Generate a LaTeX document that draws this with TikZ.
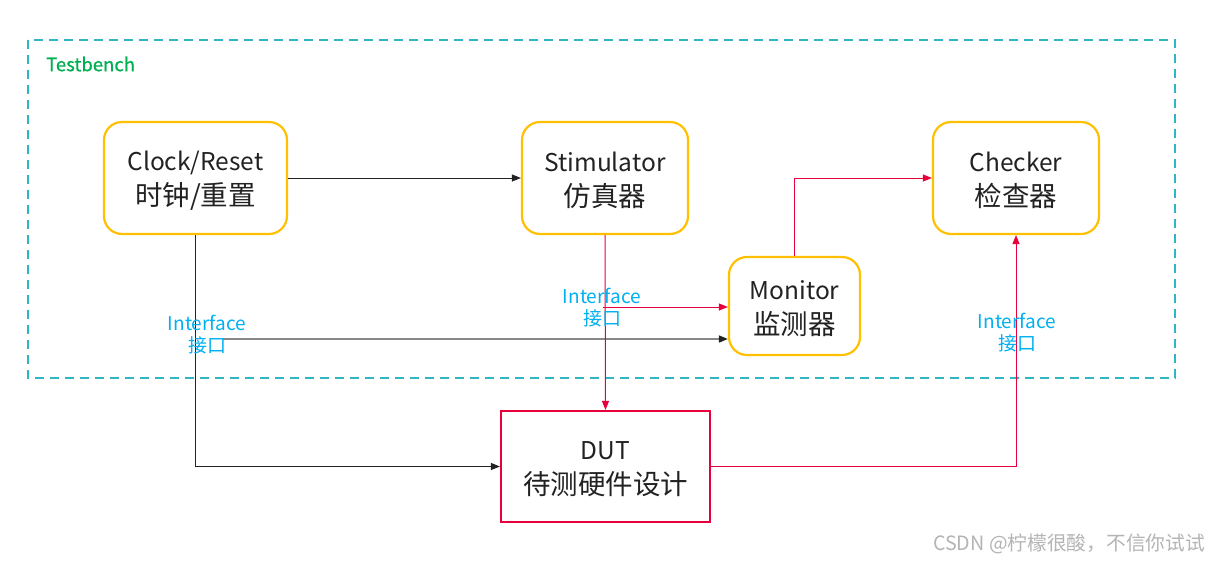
\documentclass[tikz,border=0pt]{standalone}
\usepackage{fontspec}
\setmainfont{Noto Sans CJK SC}
\newfontfamily\tbfont[FakeBold=0.8]{Noto Sans CJK SC}
\usetikzlibrary{arrows.meta}
\definecolor{framec}{HTML}{2EB6C4}
\definecolor{ybox}{HTML}{FFC000}
\definecolor{rline}{HTML}{E8003C}
\definecolor{lbl}{HTML}{00B0F0}
\definecolor{tbg}{HTML}{00B050}
\definecolor{txt}{HTML}{222222}
\definecolor{gline}{HTML}{888888}
\definecolor{wm}{HTML}{B4B4B4}
\newcommand{\bt}[2]{{\fontsize{24.5}{35}\selectfont #1}\\{\fontsize{27.5}{35}\selectfont #2}}
\tikzset{
  ybx/.style={draw=ybox, line width=2.2pt, rounded corners=18pt, inner sep=0pt},
  rbx/.style={draw=rline, line width=2.2pt, inner sep=0pt},
  btxt/.style={text=txt, align=center, font=\fontsize{25}{35}\selectfont, inner sep=0pt, yshift=-2.5pt},
  tip/.style={-{Triangle[length=9pt,width=7pt]}},
  blk/.style={tip, draw=txt, line width=1pt},
  gry/.style={-{Triangle[length=9pt,width=7pt,color=txt]}, draw=gline, line width=1.6pt},
  red/.style={tip, draw=rline, line width=1pt},
  iflbl/.style={text=lbl, align=center, font=\fontsize{19}{22}\selectfont, inner sep=0pt},
}
\begin{document}
\begin{tikzpicture}[x=1pt,y=-1pt]
\useasboundingbox[fill=white] (0,0) rectangle (1221,563);
\draw[framec, line width=2pt, dash pattern=on 9pt off 6pt] (28,40) rectangle (1175,378);
\node[anchor=west, text=tbg, font=\tbfont\fontsize{18.5}{20}\selectfont, inner sep=0pt] (tb) at (46,64) {Testbench};
\node[ybx, minimum width=183pt, minimum height=112pt, label={[btxt]center:\bt{Clock/Reset}{时钟/重置}}] (clk) at (195.5,178) {};
\node[ybx, minimum width=166pt, minimum height=112pt, label={[btxt]center:\bt{Stimulator}{仿真器}}] (stim) at (605,178) {};
\node[ybx, minimum width=166pt, minimum height=112pt, label={[btxt]center:\bt{Checker}{检查器}}] (chk) at (1016,178) {};
\node[ybx, minimum width=131pt, minimum height=98pt, label={[btxt]center:\bt{Monitor}{监测器}}] (mon) at (794.5,306) {};
\node[rbx, minimum width=209pt, minimum height=111pt, label={[btxt,yshift=-0.5pt]center:\bt{DUT}{待测硬件设计}}] (dut) at (605.5,466.5) {};
\coordinate (ifA) at (223,339);
\coordinate (ifB) at (603,307);
\draw[blk] (clk) -- (stim);
\draw[blk] (clk.south) |- (dut.west);
\draw[gry] (ifA) -- (ifA -| mon.west);
\draw[red] (stim.south) -- (dut.north);
\draw[red] (ifB) -- (ifB -| mon.west);
\draw[red] (mon.north) |- (chk.west);
\draw[red] (dut.east) -| (chk.south);
\node[iflbl] (l1) at (207,335) {Interface\\接口};
\node[iflbl] (l2) at (602,308) {Interface\\接口};
\node[iflbl] (l3) at (1017,333) {Interface\\接口};
\node[anchor=east, text=wm, font=\fontsize{19.7}{22}\selectfont, inner sep=0pt] (wmk) at (1205,544) {CSDN @柠檬很酸，不信你试试};
\end{tikzpicture}
\end{document}
